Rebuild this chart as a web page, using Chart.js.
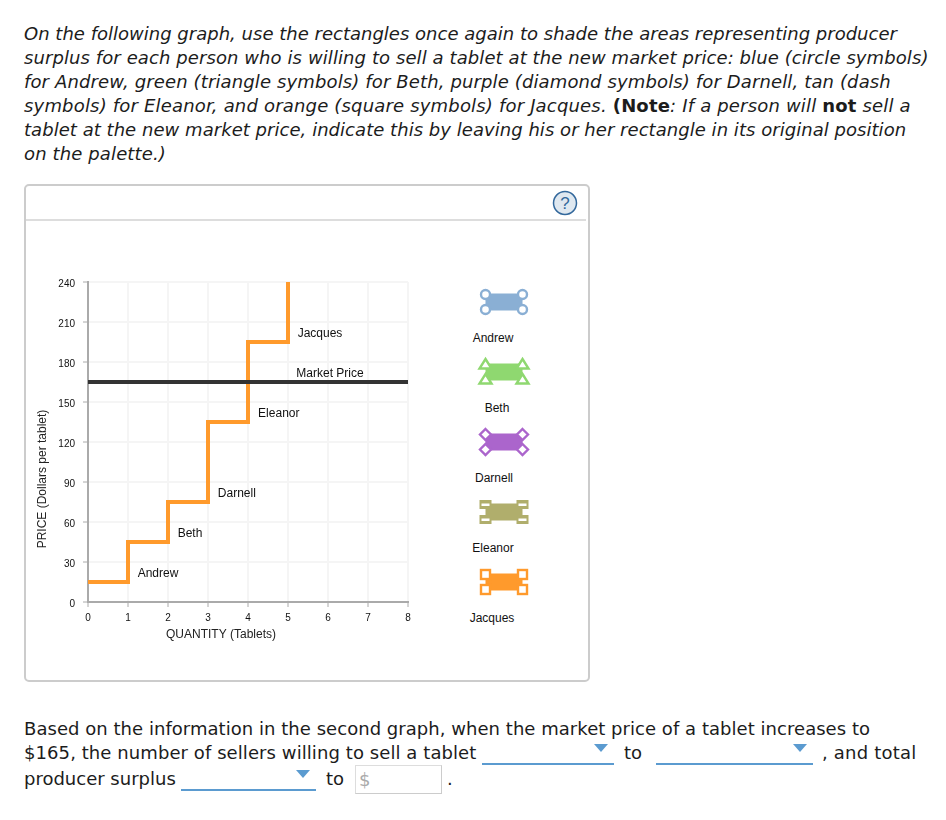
<!DOCTYPE html>
<html><head><meta charset="utf-8">
<script src="https://cdn.jsdelivr.net/npm/chart.js@4"></script>
<style>
html,body{margin:0;padding:0;background:#fff;width:946px;height:820px;overflow:hidden}
.t{position:absolute;left:24px;white-space:nowrap;font-family:"DejaVu Sans",Verdana,sans-serif;font-size:18px;line-height:24px;color:#1c1c1c}
.i{font-style:italic}
#panel{position:absolute;left:24px;top:184px;width:562px;height:494px;border:2px solid #ccc;border-radius:5px}
#head{position:absolute;left:26px;top:219px;width:560px;height:2px;background:#ddd}
#box{position:absolute;left:26px;top:260px;width:400px;height:400px}
#pal{position:absolute;left:440px;top:260px}
.u{position:absolute;height:2px;background:#5b9bd0}
.d{position:absolute;width:0;height:0;border-left:7px solid transparent;border-right:7px solid transparent;border-top:8px solid #5b9bd0}
#inp{position:absolute;left:355px;top:765px;width:85px;height:27px;border:1px solid #ccc;border-top-color:#ddd;border-left-color:#ddd;font:18px "DejaVu Sans",sans-serif;color:#aaa;line-height:27px;text-indent:3px}
</style></head><body>
<div class="t i" style="top:22px;letter-spacing:.01px">On the following graph, use the rectangles once again to shade the areas representing producer</div>
<div class="t i" style="top:46px;letter-spacing:.09px">surplus for each person who is willing to sell a tablet at the new market price: blue (circle symbols)</div>
<div class="t i" style="top:70px;letter-spacing:.13px">for Andrew, green (triangle symbols) for Beth, purple (diamond symbols) for Darnell, tan (dash</div>
<div class="t i" style="top:94px;letter-spacing:.18px">symbols) for Eleanor, and orange (square symbols) for Jacques. <b style="font-style:normal">(Note</b>: If a person will <b style="font-style:normal">not</b> sell a</div>
<div class="t i" style="top:118px;letter-spacing:.04px">tablet at the new market price, indicate this by leaving his or her rectangle in its original position</div>
<div class="t i" style="top:142px;letter-spacing:.13px">on the palette.)</div>

<div id="panel"></div><div id="head"></div>
<svg style="position:absolute;left:550px;top:188px" width="30" height="30"><circle cx="15" cy="15" r="11.5" fill="#dfe8f0" stroke="#33689c" stroke-width="1.5"/><text x="15" y="21" text-anchor="middle" font-family="Liberation Sans" font-size="17" fill="#33689c">?</text></svg>
<div id="box"><canvas id="c" width="400" height="400"></canvas></div>
<svg id="pal" width="120" height="380"></svg>

<div class="t" style="top:717px;letter-spacing:.04px">Based on the information in the second graph, when the market price of a tablet increases to</div>
<div class="t" style="top:741px;letter-spacing:.08px">$165, the number of sellers willing to sell a tablet</div>
<div class="t" style="top:741px;left:624px">to</div>
<div class="t" style="top:741px;left:822px;letter-spacing:.2px">, and total</div>
<div class="t" style="top:767px">producer surplus</div>
<div class="t" style="top:767px;left:326px">to</div>
<div class="t" style="top:767px;left:447px">.</div>
<div class="u" style="left:482px;top:763px;width:132px"></div><div class="d" style="left:594px;top:744px"></div>
<div class="u" style="left:656px;top:763px;width:157px"></div><div class="d" style="left:793px;top:744px"></div>
<div class="u" style="left:181px;top:789px;width:135px"></div><div class="d" style="left:296px;top:770px"></div>
<div id="inp">$</div>

<script>
const supplyQuantity=[0,1,1,2,2,3,3,4,4,5,5];
const supplyPrice=[15,15,45,45,75,75,135,135,195,195,240];
const marketQuantity=[0,8];
const marketPrice=[165,165];
const xTicks=[0,1,2,3,4,5,6,7,8];
const yTicks=[0,30,60,90,120,150,180,210,240];
const labelNames=["Andrew","Beth","Darnell","Eleanor","Jacques","Market Price"];
const labelQuantity=[1.75,2.55,3.72,4.77,5.8,6.05];
const labelPrice=[21,51,81,141,201,171];
const xTitle="QUANTITY (Tablets)";
const yTitle="PRICE (Dollars per tablet)";
const paletteNames=["Andrew","Beth","Darnell","Eleanor","Jacques"];
const paletteColors=["#8aafd4","#8fd870","#ab65cc","#b0ae6c","#ff9a2c"];
const paletteLabelX=[53,57,54,53,52];

function pts(q,p){return q.map((v,i)=>({x:v,y:p[i]}));}
const textFont='12px "Liberation Sans",Arial,sans-serif';
const stepLabels={id:'stepLabels',afterDatasetsDraw(ch){
  const g=ch.ctx,{x,y}=ch.scales;g.save();g.font=textFont;g.fillStyle='#111';g.textAlign='center';g.textBaseline='middle';
  labelNames.forEach((n,i)=>g.fillText(n,x.getPixelForValue(labelQuantity[i]),y.getPixelForValue(labelPrice[i])));
  /* axis titles sit off-centre in the reference, so they are placed here */
  g.fillStyle='#222';
  g.fillText(xTitle,195,375);
  g.translate(17,219);g.rotate(-Math.PI/2);g.fillText(yTitle,0,0);
  g.restore();}};
const font={family:'"Liberation Sans",Arial,sans-serif',size:10};
new Chart(document.getElementById('c'),{
  type:'scatter',
  data:{datasets:[
    {label:'Market Price',data:pts(marketQuantity,marketPrice),showLine:true,pointRadius:0,borderColor:'#333333',borderWidth:4,clip:false},
    {label:'Supply',data:pts(supplyQuantity,supplyPrice),showLine:true,pointRadius:0,borderColor:'#ff9a2c',borderWidth:4,borderJoinStyle:'miter',borderCapStyle:'butt',clip:false}
  ]},
  options:{responsive:false,animation:false,devicePixelRatio:1,
    layout:{padding:{top:22,right:18,left:0,bottom:0}},
    plugins:{legend:{display:false},tooltip:{enabled:false}},
    scales:{
      x:{type:'linear',min:0,max:8,afterBuildTicks(a){a.ticks=xTicks.map(v=>({value:v}));},afterFit(a){a.height=58;},
        grid:{color:'#f5f5f5',lineWidth:2,tickColor:'#aaaaaa',tickLength:5,tickWidth:1,drawTicks:true},
        border:{color:'#aaaaaa',width:2},
        ticks:{font,color:'#111',padding:5,maxRotation:0,autoSkip:false},
        title:{display:false}},
      y:{type:'linear',min:0,max:240,afterBuildTicks(a){a.ticks=yTicks.map(v=>({value:v}));},afterFit(a){a.width=62;},
        grid:{color:'#f5f5f5',lineWidth:2,tickColor:'#aaaaaa',tickLength:5,tickWidth:1,drawTicks:true},
        border:{color:'#aaaaaa',width:2},
        ticks:{font,color:'#111',padding:8,autoSkip:false,labelOffset:2},
        title:{display:false}}
    }},
  plugins:[stepLabels]
});

/* palette of draggable rectangles (page furniture, coordinates relative to #pal) */
const ns='http://www.w3.org/2000/svg',svg=document.getElementById('pal');
function el(t,a,txt){const e=document.createElementNS(ns,t);for(const k in a)e.setAttribute(k,a[k]);if(txt)e.textContent=txt;svg.appendChild(e);return e;}
paletteNames.forEach((n,i)=>{
  const cy=42+70*i,cx=64,c=paletteColors[i],dx=18.5,dy=7.5;
  el('rect',{x:cx-dx,y:cy-dy-1,width:2*dx,height:2*dy+2,fill:c});
  [[-1,-1],[1,-1],[-1,1],[1,1]].forEach(([sx,sy])=>{
    const x=cx+sx*dx,y=cy+sy*dy,s={fill:'#fff',stroke:c,'stroke-width':2.4};
    if(i==0)el('circle',{cx:x,cy:y,r:4.5,...s});
    if(i==1)el('polygon',{points:`${x},${y-5.5} ${x+6},${y+4} ${x-6},${y+4}`,...s});
    if(i==2)el('polygon',{points:`${x},${y-5.5} ${x+5.5},${y} ${x},${y+5.5} ${x-5.5},${y}`,...s});
    if(i==3){el('rect',{x:x-6,y:y-4.5,width:12,height:9,fill:c});el('rect',{x:x-4,y:y-1,width:8,height:2.5,fill:'#fff'});}
    if(i==4)el('rect',{x:x-4.5,y:y-4.5,width:9,height:9,...s});
  });
  el('text',{x:paletteLabelX[i],y:cy+40,'text-anchor':'middle','font-family':'Liberation Sans','font-size':12,fill:'#111'},n);
});
</script>
</body></html>
